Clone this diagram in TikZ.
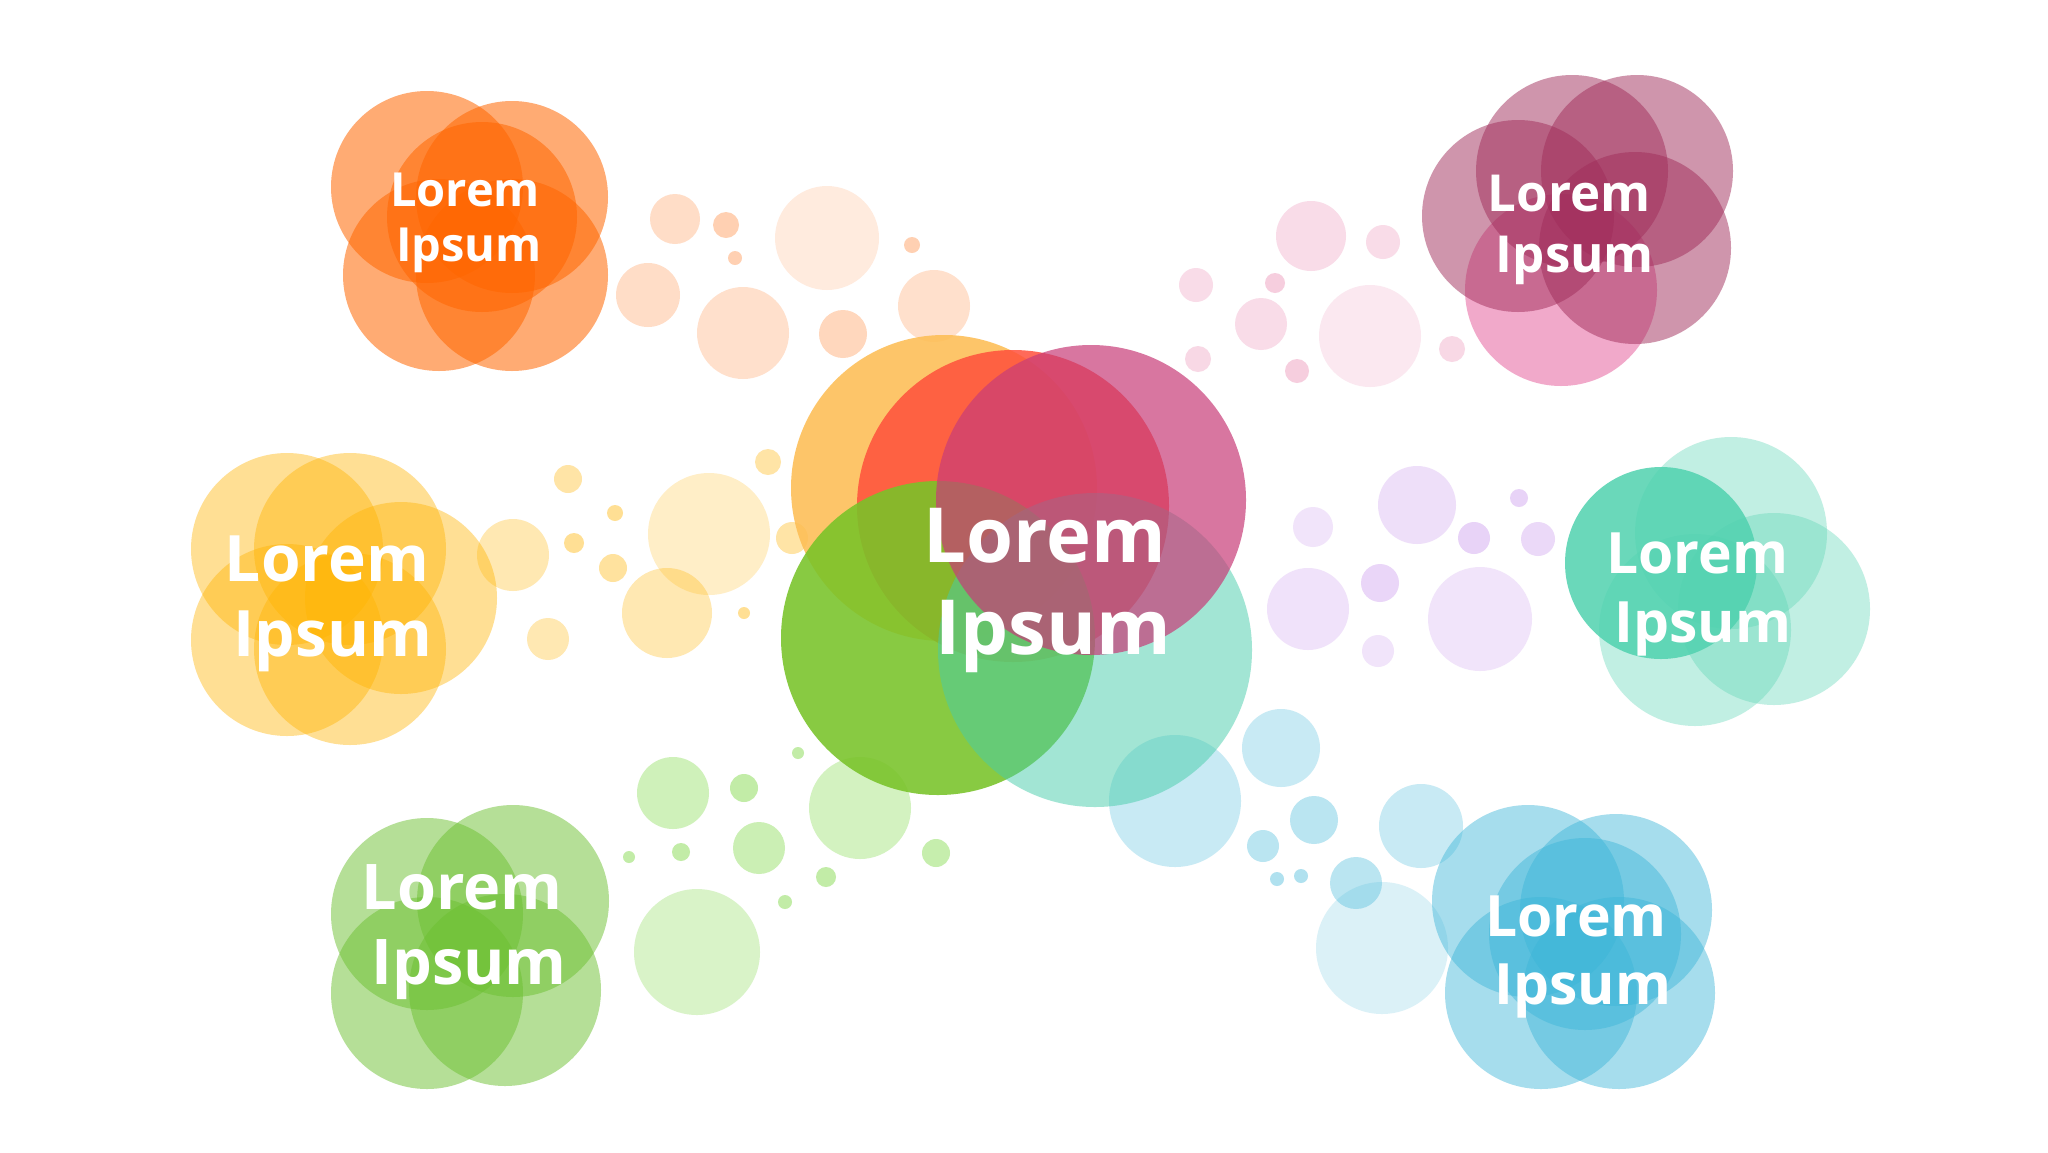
\documentclass[tikz,border=0pt]{standalone}
\usepackage{fontspec}
\setmainfont{Open Sans}

\definecolor{orgC}{RGB}{255,102,0}
\definecolor{mauveC}{RGB}{160,45,90}
\definecolor{pinkC}{RGB}{229,85,150}
\definecolor{ylwC}{RGB}{255,180,0}
\definecolor{tealC}{RGB}{94,214,182}
\definecolor{tealD}{RGB}{80,210,175}
\definecolor{grnC}{RGB}{108,192,48}
\definecolor{grnB}{RGB}{120,215,60}
\definecolor{cyanC}{RGB}{59,181,216}
\definecolor{lilacC}{RGB}{180,110,230}
\definecolor{bubPink}{RGB}{226,80,140}
\definecolor{midY}{RGB}{253,190,85}
\definecolor{midR}{RGB}{255,80,60}
\definecolor{midM}{RGB}{200,60,120}
\definecolor{midG}{RGB}{120,195,40}
\definecolor{midT}{RGB}{70,205,170}

\tikzset{every picture/.style={line width=0.75pt}}
\tikzset{lbl/.style={anchor=base, inner sep=0pt, text=white}}

\begin{document}
\begin{tikzpicture}[x=0.5pt,y=0.5pt,yscale=-1,xscale=1]
\path [use as bounding box, fill=white] (0,0) rectangle (2048,1152);

%Bubbles: orange trail
\fill [orgC, fill opacity=0.22] (675,219) circle (25);
\fill [orgC, fill opacity=0.3] (726,225) circle (13);
\fill [orgC, fill opacity=0.3] (735,258) circle (7);
\fill [orgC, fill opacity=0.22] (648,295) circle (32);
\fill [orgC, fill opacity=0.2] (743,333) circle (46);
\fill [orgC, fill opacity=0.13] (827,238) circle (52);
\fill [orgC, fill opacity=0.3] (912,245) circle (8);
\fill [orgC, fill opacity=0.26] (843,334) circle (24);
\fill [orgC, fill opacity=0.2] (934,306) circle (36);
%Bubbles: pink trail
\fill [bubPink, fill opacity=0.2] (1311,236) circle (35);
\fill [bubPink, fill opacity=0.2] (1383,242) circle (17);
\fill [bubPink, fill opacity=0.2] (1196,285) circle (17);
\fill [bubPink, fill opacity=0.28] (1275,283) circle (10);
\fill [bubPink, fill opacity=0.2] (1261,324) circle (26);
\fill [bubPink, fill opacity=0.13] (1370,336) circle (51);
\fill [bubPink, fill opacity=0.22] (1452,349) circle (13);
\fill [bubPink, fill opacity=0.22] (1198,359) circle (13);
\fill [bubPink, fill opacity=0.28] (1297,371) circle (12);
%Bubbles: yellow trail
\fill [ylwC, fill opacity=0.35] (568,479) circle (14);
\fill [ylwC, fill opacity=0.42] (615,513) circle (8);
\fill [ylwC, fill opacity=0.3] (513,555) circle (36);
\fill [ylwC, fill opacity=0.42] (574,543) circle (10);
\fill [ylwC, fill opacity=0.38] (613,568) circle (14);
\fill [ylwC, fill opacity=0.22] (709,534) circle (61);
\fill [ylwC, fill opacity=0.3] (667,613) circle (45);
\fill [ylwC, fill opacity=0.35] (768,462) circle (13);
\fill [ylwC, fill opacity=0.35] (792,538) circle (16);
\fill [ylwC, fill opacity=0.42] (744,613) circle (6);
\fill [ylwC, fill opacity=0.3] (548,639) circle (21);
%Bubbles: lilac trail
\fill [lilacC, fill opacity=0.18] (1313,527) circle (20);
\fill [lilacC, fill opacity=0.22] (1417,505) circle (39);
\fill [lilacC, fill opacity=0.3] (1519,498) circle (9);
\fill [lilacC, fill opacity=0.3] (1474,538) circle (16);
\fill [lilacC, fill opacity=0.26] (1538,539) circle (17);
\fill [lilacC, fill opacity=0.28] (1380,583) circle (19);
\fill [lilacC, fill opacity=0.2] (1308,609) circle (41);
\fill [lilacC, fill opacity=0.18] (1378,651) circle (16);
\fill [lilacC, fill opacity=0.18] (1480,619) circle (52);
%Bubbles: green trail
\fill [grnB, fill opacity=0.35] (673,793) circle (36);
\fill [grnB, fill opacity=0.45] (744,788) circle (14);
\fill [grnB, fill opacity=0.45] (798,753) circle (6);
\fill [grnB, fill opacity=0.32] (860,808) circle (51);
\fill [grnB, fill opacity=0.45] (681,852) circle (9);
\fill [grnB, fill opacity=0.45] (629,857) circle (6);
\fill [grnB, fill opacity=0.38] (759,848) circle (26);
\fill [grnB, fill opacity=0.45] (826,877) circle (10);
\fill [grnB, fill opacity=0.42] (936,853) circle (14);
\fill [grnB, fill opacity=0.45] (785,902) circle (7);
\fill [grnB, fill opacity=0.28] (697,952) circle (63);
%Bubbles: cyan trail
\fill [cyanC, fill opacity=0.28] (1175,801) circle (66);
\fill [cyanC, fill opacity=0.28] (1281,748) circle (39);
\fill [cyanC, fill opacity=0.35] (1314,820) circle (24);
\fill [cyanC, fill opacity=0.35] (1263,846) circle (16);
\fill [cyanC, fill opacity=0.4] (1301,876) circle (7);
\fill [cyanC, fill opacity=0.4] (1277,879) circle (7);
\fill [cyanC, fill opacity=0.35] (1356,883) circle (26);
\fill [cyanC, fill opacity=0.28] (1421,826) circle (42);
\fill [cyanC, fill opacity=0.18] (1382,948) circle (66);

%Cluster: orange
\fill [orgC, fill opacity=0.55] (427,187) circle (96);
\fill [orgC, fill opacity=0.55] (512,197) circle (96);
\fill [orgC, fill opacity=0.55] (439,275) circle (96);
\fill [orgC, fill opacity=0.55] (512,275) circle (96);
\fill [orgC, fill opacity=0.55] (482,217) circle (95);
%Cluster: pink
\fill [pinkC, fill opacity=0.5] (1561,290) circle (96);
\fill [mauveC, fill opacity=0.5] (1518,216) circle (96);
\fill [mauveC, fill opacity=0.5] (1572,171) circle (96);
\fill [mauveC, fill opacity=0.5] (1637,171) circle (96);
\fill [mauveC, fill opacity=0.5] (1635,248) circle (96);
%Cluster: yellow
\fill [ylwC, fill opacity=0.42] (287,549) circle (96);
\fill [ylwC, fill opacity=0.42] (350,549) circle (96);
\fill [ylwC, fill opacity=0.42] (401,598) circle (96);
\fill [ylwC, fill opacity=0.42] (287,640) circle (96);
\fill [ylwC, fill opacity=0.42] (350,649) circle (96);
%Cluster: teal
\fill [tealC, fill opacity=0.38] (1731,533) circle (96);
\fill [tealC, fill opacity=0.38] (1774,609) circle (96);
\fill [tealC, fill opacity=0.38] (1695,630) circle (96);
\fill [tealD, fill opacity=0.85] (1661,563) circle (96);
%Cluster: green
\fill [grnC, fill opacity=0.5] (427,914) circle (96);
\fill [grnC, fill opacity=0.5] (513,901) circle (96);
\fill [grnC, fill opacity=0.5] (427,993) circle (96);
\fill [grnC, fill opacity=0.5] (505,990) circle (96);
%Cluster: cyan
\fill [cyanC, fill opacity=0.45] (1528,901) circle (96);
\fill [cyanC, fill opacity=0.45] (1616,910) circle (96);
\fill [cyanC, fill opacity=0.45] (1541,993) circle (96);
\fill [cyanC, fill opacity=0.45] (1619,993) circle (96);
\fill [cyanC, fill opacity=0.45] (1585,934) circle (96);

%Centre cluster
\fill [midY, fill opacity=0.88] (944,488) circle (153);
\fill [midR, fill opacity=0.85] (1013,506) circle (156);
\fill [midG, fill opacity=0.88] (938,638) circle (157);
\fill [midT, fill opacity=0.5] (1095,650) circle (157);
\fill [midM, fill opacity=0.7] (1091,500) circle (155);

% Text Node
\draw (465,206) node (orgLorem) [lbl, font=\fontsize{23.5}{28}\selectfont\bfseries] {Lorem};
\draw (469,261) node (orgIpsum) [lbl, font=\fontsize{23.5}{28}\selectfont\bfseries] {Ipsum};
% Text Node
\draw (1569,211) node (pnkLorem) [lbl, font=\fontsize{25.5}{30}\selectfont\bfseries] {Lorem};
\draw (1575,272) node (pnkIpsum) [lbl, font=\fontsize{25.5}{30}\selectfont\bfseries] {Ipsum};
% Text Node
\draw (327,581) node (ylwLorem) [lbl, font=\fontsize{32}{38}\selectfont\bfseries] {Lorem};
\draw (333,656) node (ylwIpsum) [lbl, font=\fontsize{32}{38}\selectfont\bfseries] {Ipsum};
% Text Node
\draw (1697,573) node (tealLorem) [lbl, font=\fontsize{28.5}{34}\selectfont\bfseries] {Lorem};
\draw (1703,642) node (tealIpsum) [lbl, font=\fontsize{28.5}{34}\selectfont\bfseries] {Ipsum};
% Text Node
\draw (462,909) node (grnLorem) [lbl, font=\fontsize{31.5}{38}\selectfont\bfseries] {Lorem};
\draw (469,984) node (grnIpsum) [lbl, font=\fontsize{31.5}{38}\selectfont\bfseries] {Ipsum};
% Text Node
\draw (1576,936) node (cyLorem) [lbl, font=\fontsize{28.5}{34}\selectfont\bfseries] {Lorem};
\draw (1583,1004) node (cyIpsum) [lbl, font=\fontsize{28.5}{34}\selectfont\bfseries] {Ipsum};
% Text Node
\draw (1045,562) node (midLorem) [lbl, font=\fontsize{38}{45}\selectfont\bfseries] {Lorem};
\draw (1053,654) node (midIpsum) [lbl, font=\fontsize{38}{45}\selectfont\bfseries] {Ipsum};

\end{tikzpicture}
\end{document}
